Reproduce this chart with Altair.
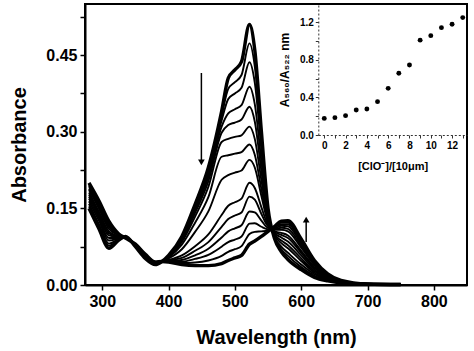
import altair as alt
import pandas as pd

# ---- data ----
wavelength = [280, 295, 310, 325, 335, 350, 365, 380, 390, 400, 420, 440, 460, 480, 490,
              500, 510, 522, 530, 540, 550, 560, 570, 580, 600, 620, 640, 660, 700, 750]

s0 = [0.150, 0.110, 0.072, 0.088, 0.095, 0.075, 0.052, 0.040, 0.046, 0.058, 0.095, 0.158, 0.230, 0.340, 0.405, 0.421, 0.437, 0.510, 0.460, 0.300, 0.150, 0.090, 0.065, 0.050, 0.030, 0.015, 0.008, 0.004, 0.002, 0.001]
s1 = [0.154, 0.115, 0.077, 0.089, 0.095, 0.075, 0.053, 0.040, 0.046, 0.058, 0.093, 0.154, 0.224, 0.331, 0.384, 0.397, 0.411, 0.473, 0.428, 0.282, 0.146, 0.092, 0.070, 0.057, 0.035, 0.018, 0.009, 0.004, 0.002, 0.001]
s2 = [0.159, 0.119, 0.081, 0.090, 0.094, 0.076, 0.053, 0.041, 0.046, 0.057, 0.092, 0.151, 0.218, 0.322, 0.364, 0.375, 0.386, 0.436, 0.396, 0.265, 0.142, 0.094, 0.075, 0.063, 0.040, 0.021, 0.010, 0.005, 0.002, 0.001]
s3 = [0.164, 0.126, 0.087, 0.091, 0.094, 0.076, 0.054, 0.041, 0.046, 0.057, 0.090, 0.146, 0.211, 0.310, 0.336, 0.344, 0.352, 0.388, 0.354, 0.242, 0.137, 0.097, 0.082, 0.072, 0.047, 0.024, 0.012, 0.005, 0.002, 0.001]
s4 = [0.169, 0.131, 0.092, 0.092, 0.094, 0.077, 0.055, 0.042, 0.046, 0.056, 0.087, 0.141, 0.203, 0.298, 0.313, 0.318, 0.324, 0.349, 0.320, 0.223, 0.133, 0.099, 0.087, 0.078, 0.052, 0.027, 0.013, 0.006, 0.002, 0.001]
s5 = [0.173, 0.136, 0.097, 0.094, 0.094, 0.077, 0.056, 0.042, 0.046, 0.055, 0.084, 0.134, 0.192, 0.280, 0.286, 0.290, 0.293, 0.310, 0.286, 0.205, 0.129, 0.102, 0.093, 0.085, 0.058, 0.030, 0.015, 0.006, 0.002, 0.001]
s6 = [0.177, 0.140, 0.101, 0.095, 0.093, 0.078, 0.056, 0.043, 0.046, 0.054, 0.079, 0.122, 0.172, 0.251, 0.254, 0.257, 0.260, 0.275, 0.255, 0.188, 0.125, 0.104, 0.098, 0.092, 0.063, 0.033, 0.016, 0.007, 0.002, 0.001]
s7 = [0.181, 0.144, 0.105, 0.095, 0.093, 0.078, 0.057, 0.043, 0.046, 0.052, 0.070, 0.104, 0.144, 0.206, 0.215, 0.220, 0.224, 0.245, 0.230, 0.174, 0.122, 0.105, 0.102, 0.097, 0.067, 0.035, 0.017, 0.007, 0.002, 0.001]
s8 = [0.186, 0.150, 0.110, 0.097, 0.093, 0.079, 0.058, 0.044, 0.046, 0.049, 0.058, 0.076, 0.099, 0.137, 0.155, 0.162, 0.169, 0.200, 0.190, 0.152, 0.118, 0.108, 0.108, 0.105, 0.073, 0.039, 0.018, 0.008, 0.002, 0.001]
s9 = [0.189, 0.153, 0.114, 0.097, 0.093, 0.079, 0.058, 0.044, 0.046, 0.048, 0.053, 0.067, 0.084, 0.114, 0.129, 0.136, 0.142, 0.173, 0.167, 0.139, 0.115, 0.110, 0.112, 0.110, 0.077, 0.041, 0.019, 0.008, 0.002, 0.001]
s10 = [0.193, 0.157, 0.117, 0.098, 0.092, 0.079, 0.059, 0.044, 0.046, 0.047, 0.049, 0.058, 0.071, 0.093, 0.105, 0.111, 0.117, 0.144, 0.142, 0.126, 0.112, 0.111, 0.116, 0.115, 0.081, 0.043, 0.020, 0.008, 0.002, 0.001]
s11 = [0.195, 0.160, 0.120, 0.099, 0.092, 0.080, 0.059, 0.045, 0.046, 0.046, 0.046, 0.051, 0.059, 0.075, 0.084, 0.089, 0.095, 0.120, 0.121, 0.114, 0.109, 0.113, 0.119, 0.119, 0.084, 0.045, 0.021, 0.009, 0.002, 0.001]
s12 = [0.198, 0.162, 0.123, 0.099, 0.092, 0.080, 0.060, 0.045, 0.046, 0.046, 0.043, 0.044, 0.048, 0.057, 0.065, 0.070, 0.076, 0.100, 0.104, 0.105, 0.107, 0.114, 0.122, 0.122, 0.087, 0.046, 0.021, 0.009, 0.002, 0.001]
s13 = [0.200, 0.165, 0.125, 0.100, 0.092, 0.080, 0.060, 0.045, 0.046, 0.045, 0.040, 0.038, 0.038, 0.042, 0.048, 0.053, 0.058, 0.080, 0.086, 0.095, 0.105, 0.115, 0.125, 0.126, 0.090, 0.048, 0.022, 0.009, 0.002, 0.001]
spectra = [s0, s1, s2, s3, s4, s5, s6, s7, s8, s9, s10, s11, s12, s13]

clo_equiv = [0, 1, 2, 3, 4, 5, 6, 7, 8, 9, 10, 11, 12, 13]
ratio = [0.177, 0.185, 0.206, 0.266, 0.277, 0.355, 0.497, 0.657, 0.745, 1.01, 1.058, 1.143, 1.18, 1.25]

arrow_down_wl = [449.5]
arrow_down_top = [0.415]
arrow_down_bottom = [0.24]
arrow_up_wl = [607.5]
arrow_up_bottom = [0.084]
arrow_up_top = [0.128]

# ---- tables ----
rows = []
for k, s in enumerate(spectra):
    for w, a in zip(wavelength, s):
        rows.append({"wl": w, "A": a, "curve": k})
spec_df = pd.DataFrame(rows)
inset_df = pd.DataFrame({"c": clo_equiv, "r": ratio})
down_df = pd.DataFrame({"wl": arrow_down_wl, "y1": arrow_down_top, "y2": arrow_down_bottom})
up_df = pd.DataFrame({"wl": arrow_up_wl, "y1": arrow_up_bottom, "y2": arrow_up_top})

FONT = "Liberation Sans"

xscale = alt.Scale(domain=[274, 850], nice=False, zero=False)
yscale = alt.Scale(domain=[0, 0.55], nice=False, zero=False)

xaxis = alt.Axis(
    values=[300, 350, 400, 450, 500, 550, 600, 650, 700, 750, 800],
    labelExpr="datum.value % 100 == 0 ? datum.label : ''",
    title="Wavelength (nm)", titleFontSize=20, titleFontWeight="bold", titleFont=FONT,
    labelFont=FONT, labelFontSize=16, labelFontWeight="bold", labelColor="black",
    tickSize=5, tickWidth=1.5, tickColor="black", labelPadding=3, titlePadding=18,
    domainColor="black", domainWidth=2, grid=False, titleColor="black",
)
yaxis = alt.Axis(
    values=[0, 0.075, 0.15, 0.225, 0.3, 0.375, 0.45, 0.525],
    labelExpr="abs(datum.value/0.15 - round(datum.value/0.15)) < 0.01 ? format(datum.value, '.2f') : ''",
    title="Absorbance", titleFontSize=20, titleFontWeight="bold", titleFont=FONT,
    labelFont=FONT, labelFontSize=16, labelFontWeight="bold", labelColor="black",
    tickSize=5, tickWidth=1.5, tickColor="black", labelPadding=3, titlePadding=16,
    domainColor="black", domainWidth=2, grid=False, titleColor="black",
)

base = alt.Chart(spec_df)
thin = base.transform_filter("datum.curve > 0 && datum.curve < 13").mark_line(
    interpolate="monotone", color="black", strokeWidth=1.9
).encode(
    x=alt.X("wl:Q", scale=xscale, axis=xaxis),
    y=alt.Y("A:Q", scale=yscale, axis=yaxis),
    detail="curve:N",
)
thick = base.transform_filter("datum.curve == 0 || datum.curve == 13").mark_line(
    interpolate="monotone", color="black", strokeWidth=3.4
).encode(
    x=alt.X("wl:Q", scale=xscale),
    y=alt.Y("A:Q", scale=yscale),
    detail="curve:N",
)
down_rule = alt.Chart(down_df).mark_rule(color="black", strokeWidth=1.5).encode(
    x=alt.X("wl:Q", scale=xscale), y=alt.Y("y1:Q", scale=yscale), y2="y2:Q"
)
down_head = alt.Chart(down_df).mark_point(shape="triangle-down", filled=True, color="black", size=45, opacity=1).encode(
    x=alt.X("wl:Q", scale=xscale), y=alt.Y("y2:Q", scale=yscale)
)
up_rule = alt.Chart(up_df).mark_rule(color="black", strokeWidth=1.5).encode(
    x=alt.X("wl:Q", scale=xscale), y=alt.Y("y1:Q", scale=yscale), y2="y2:Q"
)
up_head = alt.Chart(up_df).mark_point(shape="triangle-up", filled=True, color="black", size=45, opacity=1).encode(
    x=alt.X("wl:Q", scale=xscale), y=alt.Y("y2:Q", scale=yscale)
)
main = alt.layer(thin, thick, down_rule, down_head, up_rule, up_head)

inset = alt.Chart(inset_df).mark_circle(size=24, color="black", opacity=1).encode(
    x=alt.X("c:Q",
            scale=alt.Scale(domain=[-0.56, 13.4], range=[233.3, 382], nice=False, zero=False),
            axis=alt.Axis(orient="bottom", offset=-150,
                          values=list(range(0, 14)),
                          labelExpr="datum.value % 2 == 0 ? datum.label : ''",
                          title="[ClO⁻]/[10μm]", titleFont=FONT, titleFontSize=11,
                          titleFontWeight="bold", titlePadding=10, titleColor="black",
                          labelFont=FONT, labelFontSize=10, labelFontWeight="bold",
                          labelColor="black", labelPadding=2,
                          tickSize=3, tickColor="#333", domainDash=[2, 2],
                          domainColor="#333", domainWidth=1, grid=False)),
    y=alt.Y("r:Q",
            scale=alt.Scale(domain=[0, 1.395], range=[131, 0], nice=False, zero=False),
            axis=alt.Axis(orient="left", offset=-233.3,
                          values=[0, 0.2, 0.4, 0.6, 0.8, 1.0, 1.2],
                          labelExpr="abs(datum.value/0.4 - round(datum.value/0.4)) < 0.01 ? format(datum.value, '.1f') : ''",
                          title="A₅₆₀/A₅₂₂ nm", titleFont=FONT, titleFontSize=12,
                          titleFontWeight="bold", titlePadding=8, titleColor="black",
                          labelFont=FONT, labelFontSize=10, labelFontWeight="bold",
                          labelColor="black", labelPadding=2,
                          tickSize=3, tickColor="#333", domainDash=[2, 2],
                          domainColor="#333", domainWidth=1, grid=False)),
)

chart = alt.layer(main, inset).resolve_scale(x="independent", y="independent").properties(
    width=382, height=281,
    padding={"left": 85, "top": 4, "right": 7, "bottom": 66},
    autosize=alt.AutoSizeParams(type="none"),
    background="white",
).configure_view(stroke="black", strokeWidth=2)

chart.save("out.html", embed_options={"renderer": "svg", "actions": False})
